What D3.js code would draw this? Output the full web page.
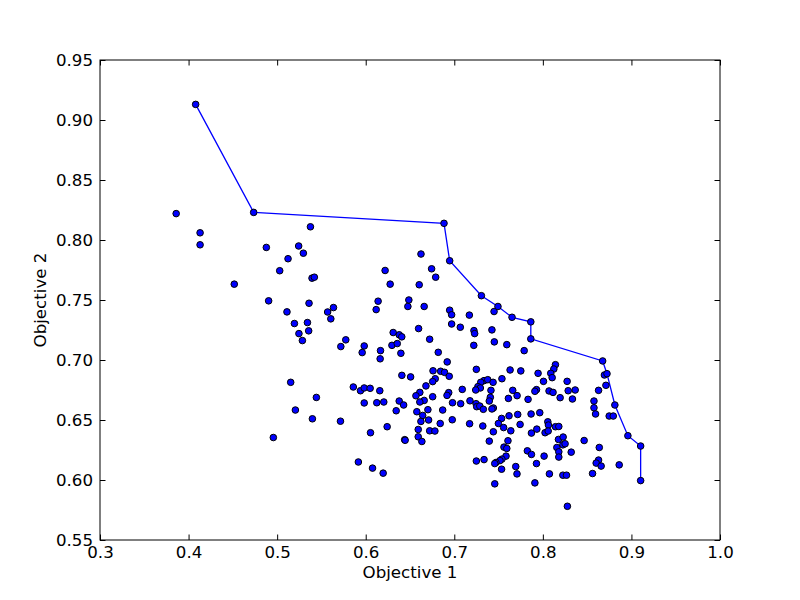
<!DOCTYPE html>
<html>
<head>
<meta charset="utf-8">
<script src="https://cdn.jsdelivr.net/npm/d3@7"></script>
<style>
  body { margin: 0; background: #fff; }
  text { font-family: "DejaVu Sans", sans-serif; }
</style>
</head>
<body>
<script>
// non-dominated points (drawn as the connected front)
const frontX = [0.408, 0.4735, 0.6884, 0.6948, 0.7306, 0.7493, 0.7652, 0.7864, 0.7864,
  0.8675, 0.8724, 0.8813, 0.896, 0.9104, 0.9104];
const frontY = [0.913, 0.823, 0.8139, 0.7827, 0.7536, 0.7446, 0.7356, 0.7318, 0.7176,
  0.6992, 0.6886, 0.6625, 0.6369, 0.6283, 0.5995];

// the rest of the population
const objective1 = [
  0.386, 0.413, 0.413, 0.5376, 0.4878, 0.5243, 0.5296, 0.5123, 0.5029, 0.5394, 0.542, 0.4516,
  0.4904, 0.536, 0.5111, 0.557, 0.5636, 0.5606, 0.5195, 0.5342, 0.5246, 0.5356, 0.5285, 0.5775,
  0.5719, 0.5153, 0.5443, 0.5206, 0.5398, 0.5715, 0.4957, 0.5917, 0.586,
  0.6624, 0.6219, 0.6744, 0.679, 0.6276, 0.6604, 0.614, 0.6118, 0.6487, 0.6476, 0.666, 0.6948,
  0.697, 0.717, 0.697, 0.7068, 0.6597, 0.7222, 0.723, 0.631, 0.6378, 0.6407, 0.5983, 0.596,
  0.6296, 0.6356, 0.6722, 0.6167, 0.6397, 0.722, 0.6819, 0.6163, 0.692, 0.7249,
  0.6408, 0.6507, 0.676, 0.6846, 0.689, 0.6943, 0.6785, 0.6756, 0.5941, 0.5983, 0.605, 0.6159,
  0.5983, 0.6125, 0.6204, 0.6378, 0.6428, 0.6344, 0.668, 0.6611, 0.6567, 0.666, 0.6611, 0.6756,
  0.6937, 0.6918, 0.709, 0.698, 0.7072, 0.7177, 0.7246, 0.7253, 0.6577, 0.6702, 0.6869, 0.6643,
  0.6623, 0.671, 0.6977, 0.6841, 0.7173, 0.6054, 0.6242, 0.6593, 0.6722, 0.6781, 0.6593, 0.644,
  0.6445, 0.6634, 0.6077, 0.6197, 0.7249,
  0.7449, 0.7425, 0.7452, 0.7593, 0.7789, 0.763, 0.7751, 0.8142, 0.8124, 0.8089, 0.8105, 0.7946,
  0.7538, 0.8007, 0.8274, 0.7336, 0.7378, 0.7438, 0.7299, 0.7267, 0.7294, 0.7242, 0.7414, 0.766,
  0.7928, 0.791, 0.807, 0.8115, 0.8286, 0.8365, 0.7709, 0.7611, 0.7833, 0.8195, 0.8334, 0.7407,
  0.7395, 0.7288, 0.7328, 0.7441, 0.7425,
  0.7534, 0.7498, 0.7557, 0.7618, 0.7716, 0.7867, 0.7965, 0.7322, 0.7441, 0.7638, 0.7743, 0.8056,
  0.8063, 0.8142, 0.818, 0.7871, 0.7932, 0.8025, 0.806, 0.7395, 0.7606, 0.7561, 0.7593, 0.8176,
  0.8229, 0.8226, 0.8251, 0.8466, 0.8158, 0.818, 0.832, 0.7825, 0.7871, 0.8014, 0.818, 0.7584,
  0.7538, 0.7516, 0.7471, 0.7457, 0.7336, 0.7928, 0.7694, 0.7534, 0.7708, 0.8074, 0.8226, 0.8267,
  0.7457, 0.791, 0.8277,
  0.8695, 0.8712, 0.8629, 0.8577, 0.8577, 0.8595, 0.8749, 0.8795, 0.8637, 0.8629, 0.8602, 0.8658,
  0.8862, 0.8561
];
const objective2 = [
  0.822, 0.806, 0.796, 0.811, 0.7938, 0.795, 0.789, 0.7844, 0.7744, 0.7682, 0.769, 0.7632,
  0.7493, 0.7473, 0.7401, 0.740, 0.7437, 0.7343, 0.7304, 0.7312, 0.722, 0.7243, 0.7162, 0.7168,
  0.7112, 0.6814, 0.6688, 0.6583, 0.651, 0.649, 0.6354, 0.615, 0.6775,
  0.7883, 0.7746, 0.776, 0.769, 0.7632, 0.7627, 0.749, 0.742, 0.750, 0.7446, 0.7446, 0.7415,
  0.7377, 0.7374, 0.730, 0.7273, 0.7262, 0.7245, 0.722, 0.7229, 0.721, 0.7193, 0.7117, 0.7062,
  0.7122, 0.7137, 0.7173, 0.7078, 0.7056, 0.7122, 0.7064, 0.701, 0.6984, 0.6922,
  0.6872, 0.6859, 0.691, 0.6906, 0.6897, 0.6864, 0.6844, 0.682, 0.6744, 0.6767, 0.6764, 0.6744,
  0.6642, 0.6644, 0.665, 0.6658, 0.6625, 0.6577, 0.6784, 0.673, 0.6702, 0.6663, 0.665, 0.6694,
  0.6728, 0.6705, 0.6755, 0.6644, 0.6636, 0.666, 0.6636, 0.6611, 0.6569, 0.6586, 0.6583, 0.6538,
  0.6488, 0.650, 0.6502, 0.6471, 0.6469, 0.6394, 0.6444, 0.6421, 0.641, 0.6408, 0.636, 0.6336,
  0.6331, 0.6321, 0.6099, 0.6057, 0.6158,
  0.7404, 0.7251, 0.7151, 0.7128, 0.7078, 0.6917, 0.6909, 0.6961, 0.6925, 0.6889, 0.6853, 0.6889,
  0.6844, 0.6822, 0.6822, 0.6828, 0.6836, 0.6814, 0.6814, 0.6778, 0.6767, 0.675, 0.6747, 0.6747,
  0.6753, 0.6739, 0.6742, 0.673, 0.6744, 0.675, 0.6703, 0.668, 0.6672, 0.6686, 0.6675, 0.6689,
  0.6658, 0.6616, 0.6589, 0.660, 0.6592,
  0.6513, 0.6471, 0.6437, 0.6535, 0.6546, 0.655, 0.6561, 0.645, 0.6402, 0.641, 0.6463, 0.6485,
  0.6458, 0.6444, 0.6446, 0.6391, 0.6424, 0.6394, 0.6408, 0.6324, 0.6327, 0.6274, 0.6263, 0.6338,
  0.6358, 0.6293, 0.6302, 0.6329, 0.6271, 0.6235, 0.6232, 0.6243, 0.6213, 0.6199, 0.6191, 0.6199,
  0.6174, 0.6162, 0.6146, 0.6137, 0.617, 0.6137, 0.6112, 0.609, 0.6051, 0.6051, 0.604, 0.604,
  0.5968, 0.5976, 0.5781,
  0.6875, 0.6789, 0.6747, 0.6658, 0.6602, 0.655, 0.6533, 0.6533, 0.6271, 0.6166, 0.6141, 0.6116,
  0.6126, 0.6054
];

const xTicks = [0.3, 0.4, 0.5, 0.6, 0.7, 0.8, 0.9, 1.0];
const yTicks = [0.55, 0.6, 0.65, 0.7, 0.75, 0.8, 0.85, 0.9, 0.95];

const width = 800;
const height = 600;
const margin = { top: 60, right: 80, bottom: 60, left: 100 };
const w = width - margin.left - margin.right;
const h = height - margin.top - margin.bottom;

const x = d3.scaleLinear().domain([0.3, 1.0]).range([0, w]);
const y = d3.scaleLinear().domain([0.55, 0.95]).range([h, 0]);

const svg = d3.select('body').append('svg')
  .attr('width', width)
  .attr('height', height);

const g = svg.append('g')
  .attr('transform', `translate(${margin.left},${margin.top})`);

const tickLen = 5.5;
const fontSize = '16.67px';

// axes with inward ticks, labels only bottom and left
const axisB = g.append('g').attr('transform', `translate(0,${h})`)
  .call(d3.axisBottom(x).tickValues(xTicks).tickFormat(d3.format('.1f'))
    .tickSizeInner(-tickLen).tickSizeOuter(0).tickPadding(6));
const axisL = g.append('g')
  .call(d3.axisLeft(y).tickValues(yTicks).tickFormat(d3.format('.2f'))
    .tickSizeInner(-tickLen).tickSizeOuter(0).tickPadding(7));
const axisT = g.append('g')
  .call(d3.axisTop(x).tickValues(xTicks).tickFormat('')
    .tickSizeInner(-tickLen).tickSizeOuter(0));
const axisR = g.append('g').attr('transform', `translate(${w},0)`)
  .call(d3.axisRight(y).tickValues(yTicks).tickFormat('')
    .tickSizeInner(-tickLen).tickSizeOuter(0));

[axisB, axisL, axisT, axisR].forEach((a) => {
  a.select('.domain').remove();
  a.selectAll('line').attr('stroke', '#000').attr('stroke-width', 1);
  a.selectAll('text')
    .attr('fill', '#000')
    .style('font-size', fontSize)
    .style('font-family', '"DejaVu Sans", sans-serif');
});

// frame
g.append('rect')
  .attr('width', w)
  .attr('height', h)
  .attr('fill', 'none')
  .attr('stroke', '#000')
  .attr('stroke-width', 1);

// front line
const front = frontX.map((d, i) => ({ x: d, y: frontY[i] }));
const line = d3.line().x((d) => x(d.x)).y((d) => y(d.y));
g.append('path')
  .datum(front)
  .attr('d', line)
  .attr('fill', 'none')
  .attr('stroke', '#0000ff')
  .attr('stroke-width', 1.3);

// all points
const points = objective1.map((d, i) => ({ x: d, y: objective2[i] })).concat(front);
g.selectAll('.dot')
  .data(points)
  .enter()
  .append('circle')
  .attr('class', 'dot')
  .attr('cx', (d) => x(d.x))
  .attr('cy', (d) => y(d.y))
  .attr('r', 3.3)
  .attr('fill', '#0000ff')
  .attr('stroke', '#000')
  .attr('stroke-width', 1);

// axis titles
svg.append('text')
  .attr('x', margin.left + w / 2)
  .attr('y', 578)
  .attr('text-anchor', 'middle')
  .style('font-size', fontSize)
  .text('Objective 1');

svg.append('text')
  .attr('transform', `translate(46,${margin.top + h / 2}) rotate(-90)`)
  .attr('text-anchor', 'middle')
  .style('font-size', fontSize)
  .text('Objective 2');
</script>
</body>
</html>
